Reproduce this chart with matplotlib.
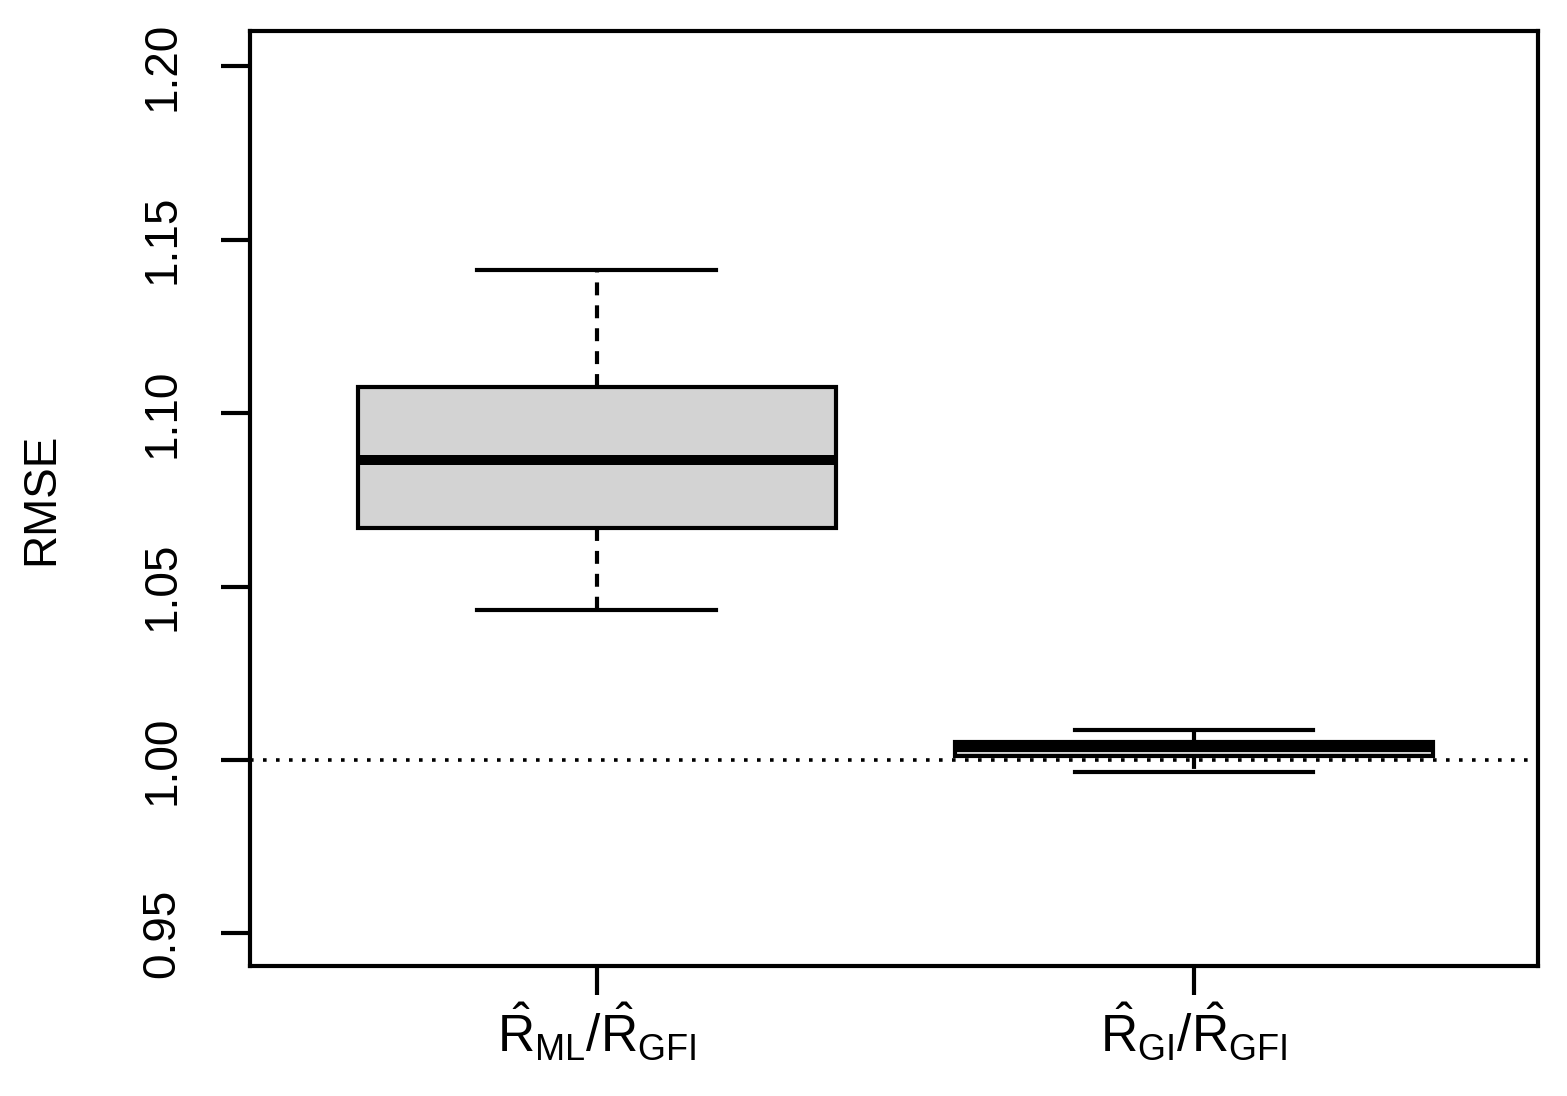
import numpy as np
import matplotlib.pyplot as plt

plt.rcParams['font.family'] = ['Liberation Sans', 'DejaVu Sans']
plt.rcParams['mathtext.fontset'] = 'custom'
plt.rcParams['mathtext.rm'] = 'Liberation Sans'
plt.rcParams['mathtext.it'] = 'Liberation Sans'
plt.rcParams['mathtext.bf'] = 'Liberation Sans:bold'

# values
labels = [r'$\hat{\mathrm{R}}_{\mathrm{ML}}/\hat{\mathrm{R}}_{\mathrm{GFI}}$',
          r'$\hat{\mathrm{R}}_{\mathrm{GI}}/\hat{\mathrm{R}}_{\mathrm{GFI}}$']
whislo = [1.0432, 0.9966]
q1 = [1.0669, 1.0010]
med = [1.0864, 1.0037]
q3 = [1.1076, 1.0053]
whishi = [1.1412, 1.0086]
yticks = [0.95, 1.00, 1.05, 1.10, 1.15, 1.20]
ref_level = 1.0

lw = 3.0
fs = 33

stats = []
for i in range(len(labels)):
    stats.append(dict(whislo=whislo[i], q1=q1[i], med=med[i],
                      q3=q3[i], whishi=whishi[i], fliers=[]))

fig = plt.figure(figsize=(15.67, 10.96), dpi=100)
ax = fig.add_axes([0.1595, 0.1186, 0.822, 0.853])

ax.bxp(stats, positions=[1, 2], widths=0.8, patch_artist=True,
       showfliers=False,
       boxprops=dict(facecolor='#D3D3D3', edgecolor='black', linewidth=lw),
       medianprops=dict(color='black', linewidth=7.2,
                        solid_capstyle='butt'),
       whiskerprops=dict(color='black', linewidth=lw,
                         linestyle=(0, (3.1, 2.4))),
       capprops=dict(color='black', linewidth=lw),
       capwidths=0.4)

ax.axhline(ref_level, color='black', linewidth=2.6,
           linestyle=(0, (1, 2.6)), zorder=0.5)

ax.set_xlim(0.419, 2.576)
ax.set_ylim(0.9406, 1.2101)
ax.set_yticks(yticks)
ax.set_yticklabels([f'{v:.2f}' for v in yticks], rotation=90, va='center',
                   fontsize=fs)
ax.set_xticks([1, 2])
ax.set_xticklabels(labels, fontsize=fs + 4)

ax.tick_params(axis='both', length=21, width=lw, color='black')
ax.tick_params(axis='y', pad=26)
ax.tick_params(axis='x', pad=4)
for s in ax.spines.values():
    s.set_linewidth(lw)

ax.set_ylabel('RMSE', fontsize=fs)
ax.yaxis.set_label_coords(-0.145, 0.5)

fig.savefig('out.png', dpi=100)
